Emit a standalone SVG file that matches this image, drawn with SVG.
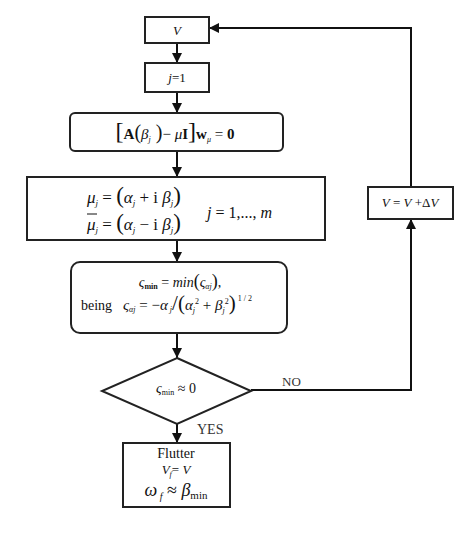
<svg xmlns="http://www.w3.org/2000/svg" width="474" height="537" viewBox="0 0 474 537">
<defs>
<marker id="arr" markerUnits="userSpaceOnUse" markerWidth="10" markerHeight="10" refX="10" refY="5" orient="auto">
<path d="M0,0 L10,5 L0,10 z" fill="#111"/>
</marker>
<style>
.box{fill:#fff;stroke:#222;stroke-width:2}
.con{fill:none;stroke:#111;stroke-width:2}
text{font-family:"Liberation Serif","Times New Roman",serif;fill:#111}
.it{font-style:italic}
.b{font-weight:bold}
.lbl{fill:#333}
</style>
</defs>
<rect width="474" height="537" fill="#fff"/>
<g id="connectors">
<line class="con" x1="177" y1="43" x2="177" y2="63" marker-end="url(#arr)"/>
<line class="con" x1="177" y1="92" x2="177" y2="113" marker-end="url(#arr)"/>
<line class="con" x1="177" y1="151" x2="177" y2="177" marker-end="url(#arr)"/>
<line class="con" x1="177" y1="240" x2="177" y2="262" marker-end="url(#arr)"/>
<line class="con" x1="177" y1="333" x2="177" y2="358" marker-end="url(#arr)"/>
<line class="con" x1="177" y1="424" x2="177" y2="443" marker-end="url(#arr)"/>
<polyline class="con" points="251,390 411,390 411,219" marker-end="url(#arr)"/>
<polyline class="con" points="411,187 411,28 209,28" marker-end="url(#arr)"/>
<text x="282" y="386" font-size="13" class="lbl">NO</text>
<text x="197" y="434" font-size="14" class="lbl">YES</text>
</g>
<g id="nodeV">
<rect class="box" x="145" y="17" width="64" height="26"/>
<text x="177" y="35" font-size="13" class="it" text-anchor="middle">V</text>
</g>
<g id="nodeJ">
<rect class="box" x="145" y="63" width="64" height="29"/>
<text x="177" y="82" font-size="13" text-anchor="middle"><tspan class="it">j</tspan>=1</text>
</g>
<g id="nodeEig">
<rect class="box" x="70" y="113" width="213" height="38" rx="5"/>
<text x="175" y="139" font-size="15" text-anchor="middle"><tspan font-size="24">[</tspan><tspan class="b">A</tspan><tspan font-size="20">(</tspan><tspan class="it">β</tspan><tspan font-size="8" dy="3" class="it">j</tspan><tspan font-size="20" dy="-3"> )</tspan>− <tspan class="it">μ</tspan><tspan class="b">I</tspan><tspan font-size="24">]</tspan><tspan class="b">w</tspan><tspan font-size="8" dy="3" class="it">μ</tspan><tspan dy="-3"> = </tspan><tspan class="b">0</tspan></text>
</g>
<g id="nodeMu">
<rect class="box" x="27" y="177" width="298" height="63"/>
<text x="87" y="203" font-size="17"><tspan class="it">μ</tspan><tspan font-size="9" dy="3" class="it">j</tspan><tspan dy="-3"> = </tspan><tspan font-size="23">(</tspan><tspan class="it">α</tspan><tspan font-size="9" dy="3" class="it">j</tspan><tspan dy="-3"> + i </tspan><tspan class="it">β</tspan><tspan font-size="9" dy="3" class="it">j</tspan><tspan font-size="23" dy="-3">)</tspan></text>
<line x1="87" y1="214" x2="97" y2="214" stroke="#111" stroke-width="1"/>
<text x="87" y="230" font-size="17"><tspan class="it">μ</tspan><tspan font-size="9" dy="3" class="it">j</tspan><tspan dy="-3"> = </tspan><tspan font-size="23">(</tspan><tspan class="it">α</tspan><tspan font-size="9" dy="3" class="it">j</tspan><tspan dy="-3"> − i </tspan><tspan class="it">β</tspan><tspan font-size="9" dy="3" class="it">j</tspan><tspan font-size="23" dy="-3">)</tspan></text>
<text x="207" y="218" font-size="16"><tspan class="it">j</tspan> = 1,..., <tspan class="it">m</tspan></text>
</g>
<g id="nodeZeta">
<rect class="box" x="71" y="262" width="216" height="71" rx="9"/>
<text x="180" y="287" font-size="14" text-anchor="middle"><tspan class="it">ς</tspan><tspan font-size="8" dy="2" class="b">min</tspan><tspan dy="-2"> = </tspan><tspan class="it">min</tspan><tspan font-size="18">(</tspan><tspan class="it">ς</tspan><tspan font-size="8" dy="2" class="it">αj</tspan><tspan font-size="18" dy="-2">)</tspan>,</text>
<text x="81" y="310" font-size="14">being</text>
<text x="123" y="310" font-size="15"><tspan class="it">ς</tspan><tspan font-size="8" dy="2" class="it">αj</tspan><tspan dy="-2"> = −</tspan><tspan class="it">α</tspan><tspan font-size="8" dy="2" class="it">  j</tspan><tspan font-size="21" dy="-2">/(</tspan><tspan class="it">α</tspan><tspan font-size="8" dy="3" class="it">j</tspan><tspan font-size="8" dy="-9">2</tspan><tspan dy="6"> + </tspan><tspan class="it">β</tspan><tspan font-size="8" dy="3" class="it">j</tspan><tspan font-size="8" dy="-9">2</tspan><tspan font-size="21" dy="6">)</tspan><tspan font-size="8" dy="-9"> 1 / 2</tspan></text>
</g>
<g id="nodeDecision">
<polygon class="box" points="177,358 251,391 177,424 102,391"/>
<text x="176" y="393" font-size="14" text-anchor="middle"><tspan class="it">ς</tspan><tspan font-size="8" dy="2">min</tspan><tspan dy="-2"> ≈ 0</tspan></text>
</g>
<g id="nodeDV">
<rect class="box" x="368" y="187" width="85" height="32"/>
<text x="410" y="207" font-size="13" text-anchor="middle"><tspan class="it">V</tspan> = <tspan class="it">V</tspan> +Δ<tspan class="it">V</tspan></text>
</g>
<g id="nodeFlutter">
<rect class="box" x="123" y="443" width="107" height="64"/>
<text x="176" y="458" font-size="14" text-anchor="middle">Flutter</text>
<text x="176" y="474" font-size="13" text-anchor="middle"><tspan class="it">V</tspan><tspan font-size="8" dy="3" class="it">f</tspan><tspan dy="-3">= </tspan><tspan class="it">V</tspan></text>
<text x="176" y="496" font-size="18" text-anchor="middle"><tspan class="it">ω</tspan><tspan font-size="10" dy="4" class="it"> f</tspan><tspan dy="-4"> ≈ </tspan><tspan class="it">β</tspan><tspan font-size="11" dy="3">min</tspan></text>
</g>
</svg>
